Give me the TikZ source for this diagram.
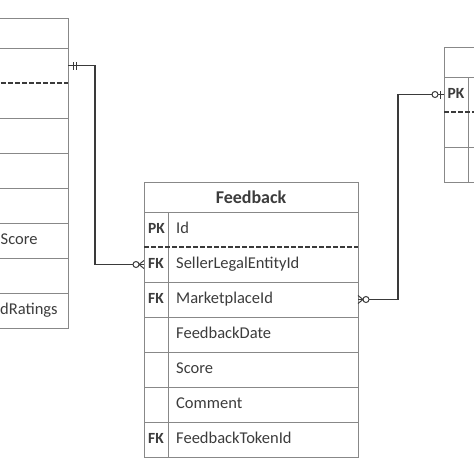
\documentclass[tikz,border=0pt]{standalone}
\usepackage{fontspec}
\setmainfont{Carlito}
\definecolor{tblgray}{HTML}{888888}
\definecolor{txtgray}{HTML}{3C3C3C}
\definecolor{conngray}{HTML}{3A3A3A}
\begin{document}
\begin{tikzpicture}[x=1pt,y=-1pt,
  rowbox/.style={draw=tblgray, line width=1pt, minimum width=#1, minimum height=35pt, inner sep=0pt, outer sep=0pt, anchor=north west},
  headbox/.style={draw=tblgray, line width=1pt, minimum width=#1, minimum height=30pt, inner sep=0pt, outer sep=0pt, anchor=north west},
  headtxt/.style={font=\fontsize{18}{21}\selectfont\bfseries, text=txtgray, inner sep=0pt},
  keytxt/.style={font=\fontsize{15.5}{18}\selectfont\bfseries, text=txtgray, inner sep=0pt, anchor=mid west, yshift=-1.5pt},
  fldtxt/.style={font=\fontsize{16.5}{19}\selectfont, text=txtgray, inner sep=0pt, anchor=mid west, yshift=-1.5pt},
  divline/.style={draw=tblgray, line width=1pt},
  dashsep/.style={draw=conngray, line width=1.1pt, dash pattern=on 5pt off 2pt},
  conn/.style={draw=conngray, line width=1.2pt},
  tickmark/.style={draw=conngray, line width=1pt},
  ring/.style={draw=conngray, line width=1pt, fill=white}]
\useasboundingbox (0,0) rectangle (474,474);
\clip (0,0) rectangle (474,474);
\fill[white] (0,0) rectangle (474,474);

% ---------- left table (partly outside the picture) ----------
\node[headbox=200pt] (lthead) at (-132,18) {};
\node[rowbox=200pt] (ltpk) at (-132,48) {};
\node[rowbox=200pt] (ltr2) at (-132,83) {};
\node[rowbox=200pt] (ltr3) at (-132,118) {};
\node[rowbox=200pt] (ltr4) at (-132,153) {};
\node[rowbox=200pt] (ltr5) at (-132,188) {};
\node[rowbox=200pt] (ltr6) at (-132,223) {};
\node[rowbox=200pt] (ltr7) at (-132,258) {};
\node[rowbox=200pt] (ltr8) at (-132,293) {};
\draw[white, line width=1.3pt] (ltpk.south west) -- (ltpk.south east);
\draw[dashsep] (ltpk.south west) -- (ltpk.south east);
\node[fldtxt] (ltscore) at (0.5,240.5) {Score};
\node[fldtxt] (ltratings) at (0,310.5) {dRatings};

% ---------- Feedback table ----------
\node[headbox=214pt] (fbhead) at (144,182) {};
\node[headtxt] (fbtitle) at (fbhead.center) {Feedback};
\node[rowbox=214pt] (fbpk) at (144,212) {};
\node[rowbox=214pt] (fbsle) at (144,247) {};
\node[rowbox=214pt] (fbmkt) at (144,282) {};
\node[rowbox=214pt] (fbdate) at (144,317) {};
\node[rowbox=214pt] (fbscore) at (144,352) {};
\node[rowbox=214pt] (fbcomm) at (144,387) {};
\node[rowbox=214pt] (fbtok) at (144,422) {};
\draw[divline] (168,212) -- (168,457);
\draw[white, line width=1.3pt] (fbpk.south west) -- (fbpk.south east);
\draw[dashsep] (fbpk.south west) -- (fbpk.south east);

\node[keytxt] (k1) at (148,229.5) {PK};
\node[fldtxt] (f1) at (176,229.5) {Id};
\node[keytxt] (k2) at (148,264.5) {FK};
\node[fldtxt] (f2) at (176,264.5) {SellerLegalEntityId};
\node[keytxt] (k3) at (148,299.5) {FK};
\node[fldtxt] (f3) at (176,299.5) {MarketplaceId};
\node[fldtxt] (f4) at (176,334.5) {FeedbackDate};
\node[fldtxt] (f5) at (176,369.5) {Score};
\node[fldtxt] (f6) at (176,404.5) {Comment};
\node[keytxt] (k7) at (148,439.5) {FK};
\node[fldtxt] (f7) at (176,439.5) {FeedbackTokenId};

% ---------- right table (partly outside the picture) ----------
\node[headbox=120pt] (rthead) at (444,47) {};
\node[rowbox=120pt] (rtpk) at (444,77) {};
\node[rowbox=120pt] (rtr2) at (444,112) {};
\node[rowbox=120pt] (rtr3) at (444,147) {};
\draw[divline] (468,77) -- (468,182);
\draw[white, line width=1.3pt] (rtpk.south west) -- (rtpk.south east);
\draw[dashsep] (rtpk.south west) -- (rtpk.south east);
\node[keytxt] (rk1) at (447.5,94.5) {PK};

% ---------- connectors ----------
\coordinate (c1) at (95,65.5);
\coordinate (c2) at (398,94.5);
\draw[conn] (ltpk.east) -- (c1) |- (fbsle.west);
\draw[conn] (fbmkt.east) -| (c2) -- (rtpk.west);

% one and only one at left table
\draw[tickmark] ([xshift=5pt,yshift=-4pt]ltpk.east) -- ([xshift=5pt,yshift=4pt]ltpk.east);
\draw[tickmark] ([xshift=8pt,yshift=-4pt]ltpk.east) -- ([xshift=8pt,yshift=4pt]ltpk.east);

% zero or many at Feedback SellerLegalEntityId
\draw[tickmark] ([xshift=-5pt]fbsle.west) -- ([yshift=4pt]fbsle.west);
\draw[tickmark] ([xshift=-5pt]fbsle.west) -- ([yshift=-4pt]fbsle.west);
\draw[ring] ([xshift=-8pt]fbsle.west) circle (3pt);

% zero or many at Feedback MarketplaceId
\draw[tickmark] ([xshift=5pt]fbmkt.east) -- ([yshift=4pt]fbmkt.east);
\draw[tickmark] ([xshift=5pt]fbmkt.east) -- ([yshift=-4pt]fbmkt.east);
\draw[ring] ([xshift=8pt]fbmkt.east) circle (3pt);

% zero or one at right table PK
\draw[tickmark] ([xshift=-4pt,yshift=-4pt]rtpk.west) -- ([xshift=-4pt,yshift=4pt]rtpk.west);
\draw[ring] ([xshift=-9pt]rtpk.west) circle (3pt);
\end{tikzpicture}
\end{document}
